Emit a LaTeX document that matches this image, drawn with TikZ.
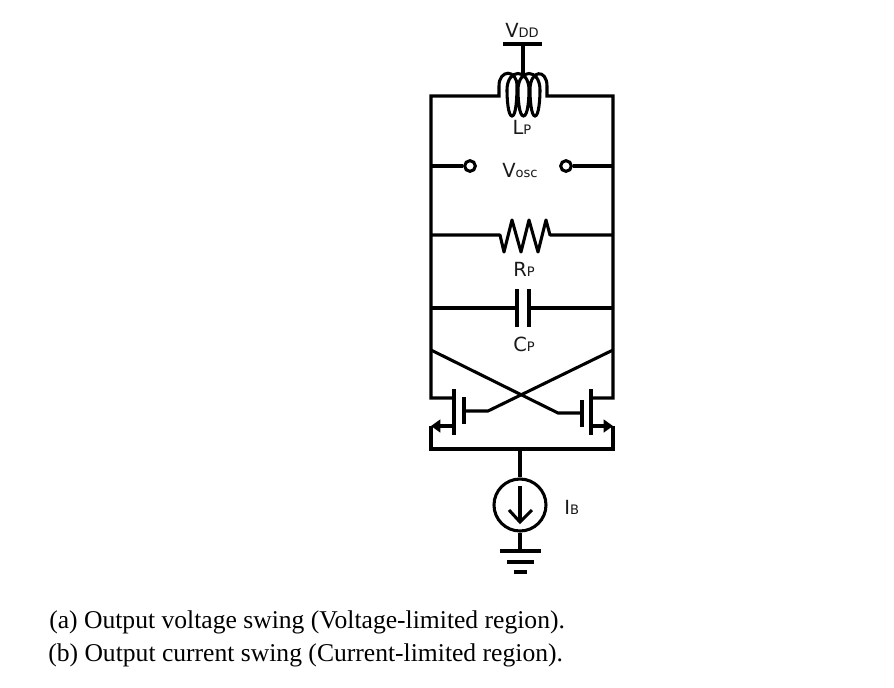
\documentclass[tikz,border=0pt]{standalone}
\usepackage{fontspec}
\setmainfont{DejaVu Sans}
\newfontfamily\capfont{Liberation Serif}
\usetikzlibrary{arrows.meta}
\newcommand{\lab}[2]{{\fontsize{14.6pt}{15pt}\selectfont #1}{\fontsize{9.8pt}{10pt}\selectfont #2}}
\tikzset{
  wire/.style={line width=2.3pt,line join=miter,line cap=butt},
  srcarrow/.style={wire,-{Triangle[length=7pt,width=9.5pt]}},
  term/.style={circle,draw,line width=2.3pt,fill=white,minimum size=8pt,inner sep=0pt},
  lbl/.style={inner sep=0pt,text=black!90},
  captext/.style={inner sep=0pt,anchor=base west,font=\capfont\fontsize{19.2pt}{20pt}\selectfont}
}
\begin{document}
\begin{tikzpicture}[x=0.75pt,y=-0.75pt]
\useasboundingbox (0,0) rectangle (894,687);
\fill[white] (0,0) rectangle (894,687);
% rail corners
\coordinate (TL) at (431,96);
\coordinate (TR) at (613,96);
\coordinate (BL) at (431,449);
\coordinate (BR) at (613,449);
\coordinate (BM) at (520,449);
\coordinate (SL) at (431,426);
\coordinate (SR) at (613,426);
\coordinate (DL) at (431,398);
\coordinate (DR) at (613,398);
\coordinate (XL) at (431,350);
\coordinate (XR) at (613,350);
% supply and inductor
\coordinate (vddL) at (503,44);
\coordinate (vddR) at (542,44);
\coordinate (vddM) at (523,44);
\coordinate (coilTop) at (523,74);
\coordinate (coilL) at (499,96);
\coordinate (coilR) at (547,96);
\node[lbl] (vdd) at (522,30) {\lab{V}{DD}};
\draw[wire] (vddL) -- (vddR);
\draw[wire] (vddM) -- (coilTop);
\draw[wire] (454,398) -- (DL) -- (TL) -- (coilL) -- (499,86)
  .. controls (499,69) and (517,69) .. (517,86)
  .. controls (517,98) and (516,116) .. (512,116)
  .. controls (508,116) and (507,98) .. (507,90)
  .. controls (507,68) and (529,68) .. (529,90)
  .. controls (529,98) and (528,116) .. (523.5,116)
  .. controls (519,116) and (518,98) .. (518,90)
  .. controls (518,68) and (540,68) .. (540,90)
  .. controls (540,98) and (539,116) .. (535,116)
  .. controls (531,116) and (530,98) .. (530,90)
  .. controls (530,69) and (547,69) .. (547,86)
  -- (coilR) -- (TR) -- (DR) -- (591,398);
\node[lbl] (lp) at (522,127) {\lab{L}{P}};
% Vosc
\node[term] (tL) at (470,166) {};
\node[term] (tR) at (566,166) {};
\coordinate (vL) at (431,166);
\coordinate (vR) at (613,166);
\draw[wire] (vL) -- (tL);
\draw[wire] (tR) -- (vR);
\node[lbl] (vosc) at (520,170) {\lab{V}{osc}};
% resistor
\coordinate (rL) at (431,235);
\coordinate (rR) at (613,235);
\draw[wire,line join=round] (rL) -- (500,235) -- (504,252) -- (512,220) -- (521,252) -- (529,220) -- (538,252) -- (546,220) -- (550,235) -- (rR);
\node[lbl] (rp) at (524,269) {\lab{R}{P}};
% capacitor
\coordinate (cL) at (431,308);
\coordinate (cR) at (613,308);
\coordinate (p1) at (517,308);
\coordinate (p2) at (529,308);
\draw[wire] (cL) -- (p1);
\draw[wire] (p2) -- (cR);
\draw[wire] (517,289) -- (517,327);
\draw[wire] (529,289) -- (529,327);
\node[lbl] (cp) at (524,344) {\lab{C}{P}};
% cross coupling and transistors
\coordinate (gL) at (465,411);
\coordinate (gR) at (582,413);
\draw[wire] (XL) -- (558,413) -- (gR);
\draw[wire] (XR) -- (488,411) -- (gL);
\draw[wire] (454,389) -- (454,435);
\draw[wire] (464,397) -- (464,424);
\draw[wire] (591,389) -- (591,435);
\draw[wire] (582,400) -- (582,427);
\draw[srcarrow] (454,426) -- (SL);
\draw[srcarrow] (591,426) -- (SR);
% bottom rail
\draw[wire] (SL) -- (BL) -- (BR) -- (SR);
% current source
\node[circle,draw,line width=2.3pt,minimum size=39pt,inner sep=0pt] (ib) at (520,505) {};
\draw[wire] (BM) -- (ib.north);
\draw[wire] (520,486) -- (520,522);
\draw[wire,line join=miter] (509,510) -- (520,522) -- (532,510);
\node[lbl,anchor=west] (iblab) at (564,507) {\lab{I}{B}};
% ground
\coordinate (g1) at (520,551);
\draw[wire] (ib.south) -- (g1);
\draw[wire] (500,551) -- (541,551);
\draw[wire] (507,562) -- (534,562);
\draw[wire] (514,572) -- (527,572);
% captions
\node[captext] (capa) at (49,628) {(a) Output voltage swing (Voltage-limited region).};
\node[captext] (capb) at (48,661) {(b) Output current swing (Current-limited region).};
\end{tikzpicture}
\end{document}
